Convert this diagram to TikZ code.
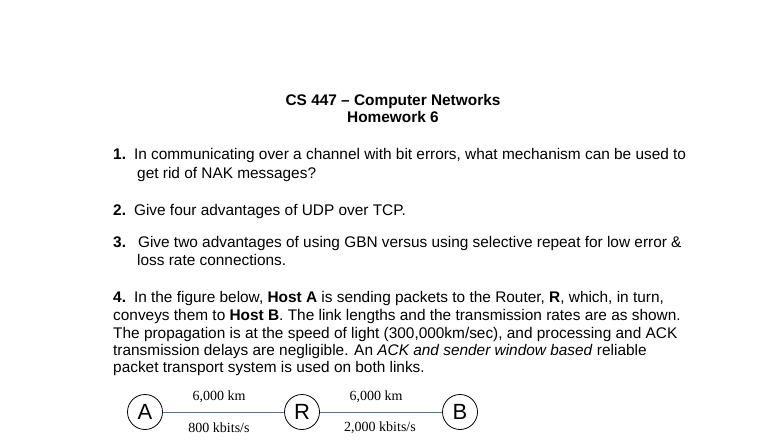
\documentclass[tikz,border=0pt]{standalone}
\usepackage{fontspec}
\setmainfont{Liberation Sans}
\newfontfamily\serifl{Liberation Serif}
\definecolor{linkc}{RGB}{70,120,150}
\begin{document}
\begin{tikzpicture}[x=1pt,y=-1pt,
  ln/.style={anchor=base west,inner sep=0pt,font=\fontsize{15.4}{17}\selectfont},
  ttl/.style={anchor=base,inner sep=0pt,font=\bfseries\fontsize{15.4}{17}\selectfont},
  host/.style={circle,draw,thick,minimum size=35pt,inner sep=0pt,font=\fontsize{22}{24}\selectfont},
  lbl/.style={inner sep=0pt,font=\serifl\fontsize{14}{16}\selectfont},
  link/.style={draw=linkc,thick}]
\useasboundingbox (0,0) rectangle (784,441);
\node[ttl] (t1) at (393,106) {CS 447 -- Computer Networks};
\node[ttl] (t2) at (393,123) {Homework 6};
\node[ln] (q1a) at (113,160) {\textbf{1.}\hspace{8pt}In communicating over a channel with bit errors, what mechanism can be used to};
\node[ln] (q1b) at (137,178) {get rid of NAK messages?};
\node[ln] (q2) at (113,215) {\textbf{2.}\hspace{8pt}Give four advantages of UDP over TCP.};
\node[ln] (q3a) at (113,247) {\textbf{3.}\hspace{12pt}Give two advantages of using GBN versus using selective repeat for low error \&};
\node[ln] (q3b) at (137,265) {loss rate connections.};
\node[ln] (q4a) at (113,302) {\textbf{4.}\hspace{8pt}In the figure below, \textbf{Host A} is sending packets to the Router, \textbf{R}, which, in turn,};
\node[ln] (q4b) at (113,320) {conveys them to \textbf{Host B}. The link lengths and the transmission rates are as shown.};
\node[ln] (q4c) at (113,338) {The propagation is at the speed of light (300,000km/sec), and processing and ACK};
\node[ln] (q4d) at (113,355) {transmission delays are negligible. An \textit{ACK and sender window based} reliable};
\node[ln] (q4e) at (113,372) {packet transport system is used on both links.};
\node[host] (A) at (145,412) {A};
\node[host] (R) at (302,412) {R};
\node[host] (B) at (460,412) {B};
\draw[link] (A) -- (R);
\draw[link] (R) -- (B);
\node[lbl] (d1) at (219,397) {6,000 km};
\node[lbl] (r1) at (219,428) {800 kbits/s};
\node[lbl] (d2) at (376,397) {6,000 km};
\node[lbl] (r2) at (380,428) {2,000 kbits/s};
\end{tikzpicture}
\end{document}
